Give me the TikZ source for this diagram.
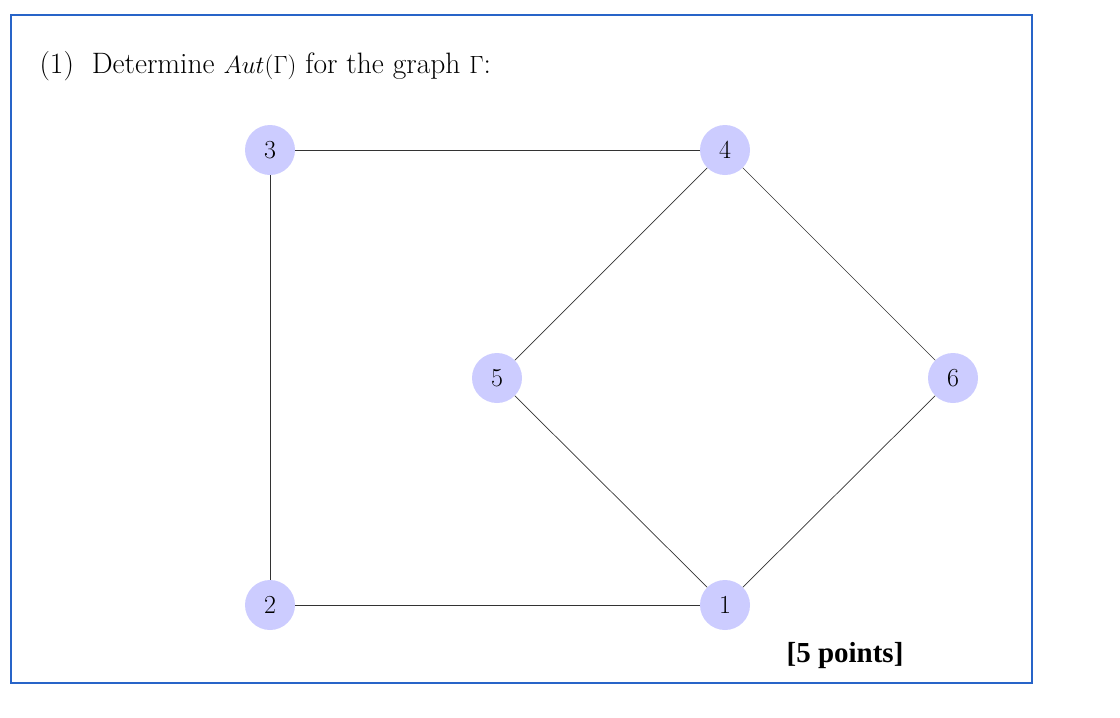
\documentclass[tikz,border=0pt]{standalone}
\usepackage{fontspec}
\newfontfamily\bfam{Liberation Serif}
\begin{document}
\begin{tikzpicture}[x=1pt,y=-1pt,
  vtx/.style={circle,fill={rgb,255:red,204;green,204;blue,255},minimum size=50pt,inner sep=0pt,font=\fontsize{26}{28}\selectfont},
  edge/.style={draw=black!80,line width=0.7pt}]
\useasboundingbox (0,0) rectangle (1120,718);
\draw[draw={rgb,255:red,40;green,100;blue,200},line width=1.6pt] (11,15) rectangle (1032,683);
\node[anchor=west,font=\fontsize{29.5}{32}\selectfont] (title) at (36,66) {(1)\ \ Determine $Aut(\Gamma)$ for the graph $\Gamma$:};
\node[vtx] (n3) at (270,150) {3};
\node[vtx] (n4) at (725,150) {4};
\node[vtx] (n5) at (497,378) {5};
\node[vtx] (n6) at (953,378) {6};
\node[vtx] (n2) at (270,605) {2};
\node[vtx] (n1) at (725,605) {1};
\draw[edge] (n3)--(n4);
\draw[edge] (n3)--(n2);
\draw[edge] (n2)--(n1);
\draw[edge] (n4)--(n5);
\draw[edge] (n4)--(n6);
\draw[edge] (n5)--(n1);
\draw[edge] (n6)--(n1);
\node[font=\bfam\bfseries\fontsize{29}{31}\selectfont] (pts) at (845,656) {[5 points]};
\end{tikzpicture}
\end{document}
